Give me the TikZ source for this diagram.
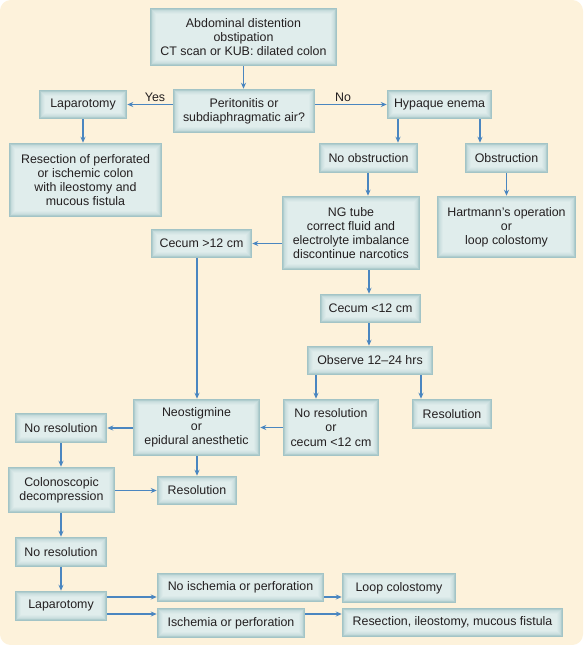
\documentclass[tikz,border=0pt]{standalone}
\usepackage{fontspec}
\setmainfont{Liberation Sans}
\usetikzlibrary{arrows.meta}
\definecolor{bgcream}{HTML}{FDF2DB}
\definecolor{boxin}{HTML}{E0EDEC}
\definecolor{boxout}{HTML}{A3C4C6}
\definecolor{arrowblue}{HTML}{4A86C0}
\definecolor{txt}{HTML}{231F20}
\tikzset{
  box/.style={fill=boxout, inner sep=1pt,
    align=center, text=txt, font=\fontsize{9.3}{10.6}\selectfont,
    path picture={
      \foreach \i/\c in {0.6/22, 1.2/40, 1.8/56, 2.4/70, 3/82, 3.6/92, 4.2/100}{
        \fill[boxin!\c!boxout]
          ([shift={(\i pt,-\i pt)}]path picture bounding box.north west) rectangle
          ([shift={(-\i pt,\i pt)}]path picture bounding box.south east);
      }
    }},
  arr/.style={draw=arrowblue, line width=1.1pt,
    -{Stealth[length=4.5pt,width=3.8pt]}},
  lbl/.style={text=txt, font=\fontsize{9.3}{10.6}\selectfont, inner sep=0pt}
}
\newcommand\bx[6]{\node[box, minimum width={(#4-#2)*0.75pt},
  minimum height={(#5-#3)*0.75pt}] (#1) at ({(#2+#4)/2},{(#3+#5)/2}) {#6};}
\begin{document}
\begin{tikzpicture}[x=0.75pt,y=-0.75pt]
\useasboundingbox (0,0) rectangle (583,645);
\fill[bgcream, rounded corners=8pt] (0,0) rectangle (583,645);
\bx{top}{150}{8}{337}{66}{Abdominal distention\\obstipation\\CT scan or KUB: dilated colon}
\bx{perit}{173}{89}{315}{133}{Peritonitis or\\subdiaphragmatic air?}
\bx{lapa}{39}{90}{127}{119}{Laparotomy}
\bx{resa}{9}{143}{162}{217}{Resection of perforated\\or ischemic colon\\with ileostomy and\\mucous fistula}
\bx{hyp}{387}{90}{492}{119}{Hypaque enema}
\bx{noobs}{319}{143}{418}{173}{No obstruction}
\bx{obs}{465}{143}{548}{173}{Obstruction}
\bx{ng}{282}{196}{420}{270}{NG tube\\correct fluid and\\electrolyte imbalance\\discontinue narcotics}
\bx{hart}{437}{196}{576}{258}{Hartmann's operation\\or\\loop colostomy}
\bx{cgt}{151}{229}{252}{258}{Cecum >12 cm}
\bx{clt}{320}{294}{421}{323}{Cecum <12 cm}
\bx{observe}{307}{346}{433}{375}{Observe 12--24 hrs}
\bx{norc}{283}{399}{379}{456}{No resolution\\or\\cecum <12 cm}
\bx{resr}{412}{399}{492}{429}{Resolution}
\bx{neo}{133}{399}{260}{456}{Neostigmine\\or\\epidural anesthetic}
\bx{noresa}{15}{413}{107}{443}{No resolution}
\bx{colono}{8}{467}{115}{513}{Colonoscopic\\decompression}
\bx{resm}{157}{476}{237}{505}{Resolution}
\bx{noresb}{15}{537}{107}{567}{No resolution}
\bx{lapb}{15}{591}{107}{621}{Laparotomy}
\bx{noisch}{157}{573}{324}{602}{No ischemia or perforation}
\bx{isch}{157}{608}{305}{638}{Ischemia or perforation}
\bx{loop}{342}{573}{456}{603}{Loop colostomy}
\bx{resect}{342}{608}{563}{637}{Resection, ileostomy, mucous fistula}
% connectors
\draw[arr] (top.south) -- (top.south |- perit.north);
\draw[arr] (perit.west |- lapa.east) -- (lapa.east);
\draw[arr] (perit.east |- hyp.west) -- (hyp.west);
\node[lbl] (yes) at (155,97) {Yes};
\node[lbl] (no) at (343,97) {No};
\draw[arr] (lapa.south) -- (lapa.south |- resa.north);
\draw[arr] (hyp.south -| 398,0) -- (noobs.north -| 398,0);
\draw[arr] (hyp.south -| 480,0) -- (obs.north -| 480,0);
\draw[arr] (noobs.south -| 368,0) -- (ng.north -| 368,0);
\draw[arr] (obs.south) -- (obs.south |- hart.north);
\draw[arr] (ng.west |- cgt.east) -- (cgt.east);
\draw[arr] (ng.south -| 369,0) -- (clt.north -| 369,0);
\draw[arr] (clt.south -| 369,0) -- (observe.north -| 369,0);
\draw[arr] (observe.south -| 316,0) -- (norc.north -| 316,0);
\draw[arr] (observe.south -| 421,0) -- (resr.north -| 421,0);
\draw[arr] (cgt.south -| 197,0) -- (neo.north -| 197,0);
\draw[arr] (norc.west) -- (norc.west -| neo.east);
\draw[arr] (neo.west |- noresa.east) -- (noresa.east);
\draw[arr] (noresa.south -| 61,0) -- (colono.north -| 61,0);
\draw[arr] (neo.south -| 197,0) -- (resm.north -| 197,0);
\draw[arr] (colono.east |- resm.west) -- (resm.west);
\draw[arr] (colono.south -| 61,0) -- (noresb.north -| 61,0);
\draw[arr] (noresb.south -| 61,0) -- (lapb.north -| 61,0);
\draw[arr] (lapb.east |- 0,597) -- (noisch.west |- 0,597);
\draw[arr] (lapb.east |- 0,614) -- (isch.west |- 0,614);
\draw[arr] (noisch.east |- 0,597) -- (loop.west |- 0,597);
\draw[arr] (isch.east |- 0,614) -- (resect.west |- 0,614);
\end{tikzpicture}
\end{document}
